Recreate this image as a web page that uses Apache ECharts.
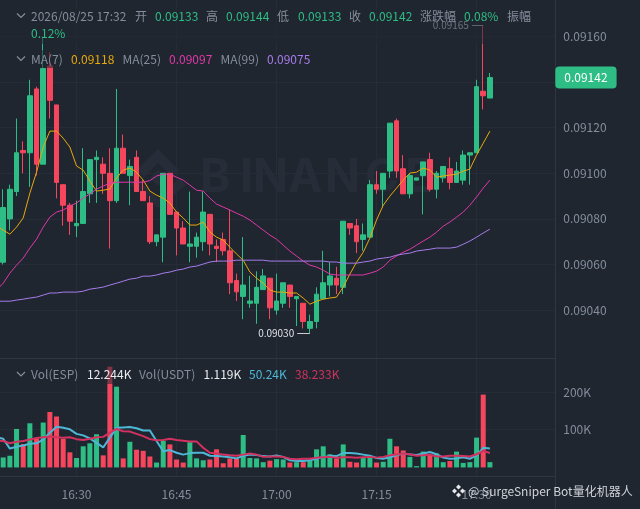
<!DOCTYPE html>
<html><head><meta charset="utf-8">
<script src="https://cdn.jsdelivr.net/npm/echarts@6/dist/echarts.min.js"></script>
<style>html,body{margin:0;padding:0;background:#1f2630}#c{width:640px;height:509px}</style>
</head><body><div id="c"></div>
<script>
const tickIndex=[11,26,41,56,71];
const tickLabels=['16:30','16:45','17:00','17:15','17:30'];
const priceTicks=[0.0904,0.0906,0.0908,0.091,0.0912,0.0914,0.0916];
const priceLabels=[0.0904,0.0906,0.0908,0.091,0.0912,0.0916];
const volTicks=[100000,200000];

const opens=[0.09061,0.0908,0.09092,0.0911,0.09109,0.09137,0.09104,0.09147,0.0913,0.09095,0.09086,0.09077,0.09078,0.09091,0.09106,0.09104,0.091,0.09088,0.09111,0.09099,0.09107,0.09092,0.09087,0.0907,0.09072,0.091,0.09083,0.09076,0.09068,0.09068,0.0907,0.09082,0.09068,0.09071,0.09066,0.09053,0.09046,0.09043,0.09043,0.09049,0.09054,0.0904,0.09043,0.09051,0.09045,0.09043,0.09032,0.09035,0.09045,0.09051,0.09054,0.0905,0.09078,0.09077,0.09071,0.09072,0.09095,0.09093,0.09101,0.09123,0.09102,0.09091,0.09097,0.09099,0.09106,0.09093,0.09098,0.09102,0.09096,0.09097,0.09108,0.09109,0.09136,0.09133];
const closes=[0.09085,0.09093,0.09109,0.09109,0.09134,0.09104,0.09146,0.09132,0.09096,0.09086,0.09079,0.09078,0.09092,0.09106,0.09107,0.091,0.09088,0.09111,0.091,0.09103,0.09092,0.09088,0.0907,0.09073,0.091,0.09082,0.09076,0.09069,0.09069,0.09072,0.09083,0.09069,0.09067,0.09066,0.09052,0.09048,0.09051,0.09044,0.0905,0.09055,0.09041,0.09044,0.09052,0.09046,0.09046,0.09035,0.09035,0.09047,0.09052,0.09055,0.09051,0.09079,0.09076,0.0907,0.09073,0.09095,0.09093,0.091,0.09122,0.09101,0.09091,0.09099,0.09098,0.09105,0.09093,0.091,0.09103,0.09096,0.09101,0.09108,0.09109,0.09138,0.09134,0.09142];
const lows=[0.0906,0.09075,0.0909,0.091,0.09094,0.09099,0.09104,0.09124,0.09089,0.09077,0.09073,0.09072,0.09078,0.09087,0.09087,0.09091,0.09067,0.09087,0.091,0.09086,0.09092,0.09088,0.09069,0.09068,0.09061,0.09082,0.09064,0.09069,0.09061,0.09063,0.09066,0.09064,0.09061,0.09064,0.09047,0.09044,0.09036,0.09041,0.09034,0.09049,0.09036,0.09038,0.09041,0.09041,0.09033,0.09032,0.0903,0.09032,0.09045,0.09046,0.09047,0.09047,0.09073,0.09065,0.09066,0.09072,0.09091,0.09085,0.09098,0.09098,0.09091,0.09089,0.09097,0.09082,0.09092,0.09089,0.09096,0.09093,0.09096,0.09095,0.09095,0.09109,0.09128,0.09133];
const highs=[0.09093,0.09095,0.09124,0.09114,0.09141,0.09138,0.0916,0.09153,0.0913,0.09095,0.09087,0.09088,0.09111,0.09106,0.0911,0.09107,0.09111,0.09137,0.09117,0.09106,0.0911,0.09097,0.0909,0.09073,0.091,0.091,0.09083,0.09079,0.09092,0.09074,0.09092,0.09082,0.09071,0.09074,0.09084,0.09056,0.09072,0.09055,0.09057,0.09058,0.09054,0.09056,0.09052,0.09051,0.09046,0.09043,0.09038,0.0905,0.09066,0.09061,0.09059,0.09079,0.09078,0.0908,0.09078,0.09097,0.09101,0.091,0.09122,0.09124,0.09108,0.091,0.09098,0.09105,0.09109,0.09101,0.09103,0.09107,0.09105,0.0911,0.09109,0.09141,0.09165,0.09144];

/* moving averages and volume averages begin one minute before the first visible candle */
const ma7=[0.090768,0.090751,0.090733,0.090764,0.090804,0.090913,0.091005,0.091115,0.091185,0.091185,0.091154,0.091115,0.091032,0.091014,0.090966,0.090922,0.090926,0.090931,0.090979,0.091014,0.091023,0.091005,0.09097,0.090922,0.090904,0.090891,0.090869,0.09083,0.090804,0.090773,0.090773,0.090786,0.090742,0.09072,0.090707,0.090676,0.090646,0.090619,0.090567,0.09054,0.090518,0.090488,0.090479,0.090479,0.090475,0.090475,0.090453,0.090426,0.090439,0.090448,0.090453,0.090457,0.090501,0.090558,0.09061,0.090654,0.090716,0.090795,0.09086,0.0909,0.090935,0.09097,0.091001,0.091005,0.091023,0.091014,0.090983,0.090988,0.090992,0.090996,0.09101,0.091018,0.09108,0.091132,0.091185];
const ma25=[0.090488,0.090518,0.090562,0.090597,0.090628,0.090672,0.090711,0.090764,0.090808,0.09083,0.090839,0.090856,0.09087,0.090891,0.090909,0.090931,0.090944,0.090957,0.090961,0.090961,0.090961,0.090961,0.090961,0.090968,0.090988,0.090996,0.090996,0.090983,0.09097,0.090948,0.090926,0.090922,0.090891,0.090865,0.090852,0.090839,0.090825,0.090812,0.090795,0.090773,0.090751,0.090729,0.090711,0.090685,0.090659,0.090637,0.090615,0.090597,0.090589,0.090575,0.090558,0.090554,0.090554,0.090554,0.090554,0.090554,0.090562,0.090571,0.090589,0.090619,0.090637,0.090654,0.090667,0.090685,0.090703,0.09072,0.090742,0.090768,0.090786,0.090808,0.09083,0.09086,0.090896,0.090935,0.09097];
const ma99=[0.090439,0.090439,0.090439,0.090444,0.090448,0.090453,0.090457,0.090466,0.090475,0.090475,0.090479,0.090479,0.090479,0.090483,0.090492,0.090496,0.090501,0.09051,0.090518,0.090527,0.090536,0.09054,0.090549,0.090549,0.090554,0.090562,0.090567,0.090575,0.09058,0.090589,0.090593,0.090602,0.090611,0.090615,0.090615,0.090615,0.090619,0.090619,0.090619,0.090619,0.090619,0.090615,0.090615,0.090615,0.090615,0.090615,0.090615,0.090615,0.090615,0.090615,0.090611,0.090611,0.090606,0.090606,0.090606,0.090611,0.090615,0.090624,0.090628,0.090632,0.090641,0.090646,0.09065,0.090659,0.090663,0.090667,0.090672,0.090672,0.090672,0.090676,0.090689,0.090703,0.09072,0.090738,0.090755];

const volumes=[26.5,31,102,62,117,76,119,147,135,76,40,25,56,64,88,32,267,214,24,68,47,44,29,13,70,61,21,13,67,24,19,21,48,11,24,24,86,25,24,14,18,22,21,13,14,14,17,48,56,35,24,61,15,13,25,29,13,15,76,56,45,28,3.5,42,34,37,14,17,42,12,14,79,193,14];
const volAvgBlue=[80,76,50,55,58,63,64,74,92,108,105,101,89,85,77,65,53,79,105,106,107,104,98,98,70,43,46,39,34,38,39,39,31,30,29,27,24,31,34,33,30,29,32,28,19,17,17,19,23,28,30,30,38,38,37,34,31,25,23,27,32,37,34,33,37,41,35,26,23,24,27,23,32,52,50.24];
const volAvgRed=[72,70,64,68,70,74,78,80,82,80,79,80,75,73,76,80,81,92,102,96,95,89,83,75,72,73,76,73,71,69,69,52,39,37,34,32,31,34,37,34,28,29,29,28,23,22,23,23,26,27,28,26,27,27,26,27,28,26,28,32,34,37,35,31,32,34,29,29,31,31,30,29,35,44,38.233];

const lastClose=closes[closes.length-1];
const GREEN='#2EBD85',RED='#F6465D',GREY='#848E9C',BG='#1f2630',GRID='#272d38',SEP='#2f3641';
const FONT='"Noto Sans CJK SC","Noto Sans",sans-serif';

const candleData=opens.map((o,i)=>[i,o,closes[i],lows[i],highs[i]]);
const volData=volumes.map((v,i)=>({value:[i,v*1000],itemStyle:{color:closes[i]>=opens[i]?GREEN:RED}}));
const lineData=a=>a.map((v,i)=>[i-1,v]);
const volLine=a=>a.map((v,i)=>[i-1,v*1000]);
const xMin=-0.48,xMax=82.81;

function txt(x,y,s,fill,extra){return Object.assign({type:'text',x:x,y:y,z:110,silent:true,style:{text:s,fill:fill,font:'12px '+FONT,textVerticalAlign:'middle'}},extra||{});}
function chev(y){return {type:'polyline',z:110,silent:true,shape:{points:[[17,y-2.5],[21,y+1.5],[25,y-2.5]]},style:{stroke:GREY,fill:null,lineWidth:1.2}};}
function wm(x,s){return {type:'text',x:x,y:178,z:1,silent:true,style:{text:s,fill:'#272d38',font:'bold 46px Inter,'+FONT,textVerticalAlign:'middle'}};}
function poly(p,fill,z){return {type:'polygon',z:z,silent:true,shape:{points:p},style:{fill:fill,stroke:null}};}

const graphics=[
  /* faint brand watermark behind the candles */
  poly([[158,149],[179,170],[172,177],[158,163],[144,177],[137,170]],'#272d38',1),
  poly([[158,170],[166,178],[158,186],[150,178]],'#272d38',1),
  poly([[137,178],[144,185],[158,199],[172,185],[179,178],[186,185],[158,208],[130,185]],'#272d38',1),
  wm(200,'B'),wm(240,'I'),wm(253,'N'),wm(288,'A'),wm(325,'N'),wm(365,'C'),wm(405,'E'),
  /* translucent plates under the legends */
  {type:'rect',z:100,silent:true,shape:{x:0,y:6,width:554,height:38},style:{fill:BG,opacity:0.55}},
  {type:'rect',z:100,silent:true,shape:{x:0,y:50,width:320,height:18},style:{fill:BG,opacity:0.55}},
  {type:'rect',z:100,silent:true,shape:{x:0,y:366,width:345,height:18},style:{fill:BG,opacity:0.55}},
  chev(16),chev(59),chev(374.5),
  txt(31,16.5,'2026/08/25 17:32',GREY),txt(135,16.5,'开',GREY),txt(155,16.5,'0.09133',GREEN),
  txt(206,16.5,'高',GREY),txt(226,16.5,'0.09144',GREEN),txt(277,16.5,'低',GREY),txt(298,16.5,'0.09133',GREEN),
  txt(349,16.5,'收',GREY),txt(369,16.5,'0.09142',GREEN),txt(420,16.5,'涨跌幅',GREY),txt(464,16.5,'0.08%',GREEN),
  txt(507,16.5,'振幅',GREY),txt(31,33,'0.12%',GREEN),
  txt(31,59,'MA(7)',GREY),txt(71,59,'0.09118','#E8A90C'),txt(122.5,59,'MA(25)',GREY),txt(169,59,'0.09097','#E038A8'),
  txt(220.5,59,'MA(99)',GREY),txt(267,59,'0.09075','#A77CEB'),
  txt(31,374.5,'Vol(ESP)',GREY),txt(87,374.5,'12.244K','#EAECEF'),txt(139,374.5,'Vol(USDT)',GREY),txt(203.5,374.5,'1.119K','#EAECEF'),
  txt(249,374.5,'50.24K','#4FB7D6'),txt(295,374.5,'38.233K','#D2325F'),
  /* bottom-right credit */
  poly([[458.5,484.5],[461,487],[458.5,489.5],[456,487]],'#e6e8eb',110),
  poly([[458.5,492.5],[461,495],[458.5,497.5],[456,495]],'#e6e8eb',110),
  poly([[454.5,488.5],[457,491],[454.5,493.5],[452,491]],'#e6e8eb',110),
  poly([[462.5,488.5],[465,491],[462.5,493.5],[460,491]],'#e6e8eb',110),
  txt(468,491.5,'@ SurgeSniper Bot量化机器人','#d0d3d8'),
  /* right separator continues below the volume panel */
  {type:'line',z:5,silent:true,shape:{x1:555.5,y1:476,x2:555.5,y2:509},style:{stroke:SEP,lineWidth:1}},
];

const option={
  backgroundColor:BG,animation:false,
  textStyle:{fontFamily:FONT},
  graphic:graphics,
  grid:[{left:0,top:0,width:555.3,height:358,containLabel:false},{left:0,top:358,width:555.3,height:118.5,containLabel:false}],
  xAxis:[
    {type:'value',gridIndex:0,min:xMin,max:xMax,axisLine:{show:true,onZero:false,lineStyle:{color:SEP}},
      axisLabel:{show:false},axisTick:{show:false,customValues:tickIndex},splitLine:{show:true,lineStyle:{color:GRID}}},
    {type:'value',gridIndex:1,min:xMin,max:xMax,axisLine:{show:true,onZero:false,lineStyle:{color:SEP}},
      axisTick:{show:false,customValues:tickIndex},splitLine:{show:true,lineStyle:{color:GRID}},
      axisLabel:{customValues:tickIndex,color:GREY,fontSize:12,fontFamily:FONT,margin:12,formatter:v=>tickLabels[tickIndex.indexOf(v)]||''}}
  ],
  yAxis:[
    {type:'value',gridIndex:0,position:'right',scale:true,min:0.09019,max:0.09176,
      axisLine:{show:true,onZero:false,lineStyle:{color:SEP}},axisTick:{show:false,customValues:priceTicks},splitLine:{show:true,lineStyle:{color:GRID}},
      axisLabel:{customValues:priceLabels,color:GREY,fontSize:12,fontFamily:FONT,margin:8,formatter:v=>v.toFixed(5)}},
    {type:'value',gridIndex:1,position:'right',min:-24000,max:290000,
      axisLine:{show:true,onZero:false,lineStyle:{color:SEP}},axisTick:{show:false,customValues:volTicks},splitLine:{show:true,lineStyle:{color:GRID}},
      axisLabel:{customValues:volTicks,color:GREY,fontSize:12,fontFamily:FONT,margin:8,formatter:v=>(v/1000)+'K'}}
  ],
  series:[
    {type:'candlestick',xAxisIndex:0,yAxisIndex:0,barWidth:5,data:candleData,encode:{x:0,y:[1,2,3,4]},
      itemStyle:{color:GREEN,color0:RED,borderColor:GREEN,borderColor0:RED,borderWidth:1},
      markLine:{silent:true,symbol:'none',animation:false,data:[
        [{coord:[70.3,0.09165],lineStyle:{color:'#a9aeb6',width:1,type:'solid'},label:{show:true,position:'start',distance:3,formatter:'0.09165',color:'#c9ccd2',fontSize:10,fontFamily:FONT}},{coord:[72,0.09165]}],
        [{coord:[44.1,0.0903],lineStyle:{color:'#c9ccd2',width:1,type:'solid'},label:{show:true,position:'start',distance:3,formatter:'0.09030',color:'#dfe1e5',fontSize:10,fontFamily:FONT}},{coord:[46,0.0903]}],
        [{coord:[xMax-0.5,lastClose],lineStyle:{color:'rgba(0,0,0,0)',width:1},label:{show:true,position:'end',distance:0,formatter:'0.09142',color:'#fff',fontSize:12,fontFamily:FONT,backgroundColor:GREEN,borderRadius:4,padding:[5,9]}},{coord:[xMax,lastClose]}]
      ]}},
    {type:'line',name:'MA7',xAxisIndex:0,yAxisIndex:0,data:lineData(ma7),showSymbol:false,lineStyle:{color:'#E8A90C',width:1},z:3},
    {type:'line',name:'MA25',xAxisIndex:0,yAxisIndex:0,data:lineData(ma25),showSymbol:false,lineStyle:{color:'#E038A8',width:1},z:3},
    {type:'line',name:'MA99',xAxisIndex:0,yAxisIndex:0,data:lineData(ma99),showSymbol:false,lineStyle:{color:'#A77CEB',width:1},z:3},
    {type:'bar',xAxisIndex:1,yAxisIndex:1,barWidth:5,data:volData},
    {type:'line',xAxisIndex:1,yAxisIndex:1,data:volLine(volAvgBlue),showSymbol:false,lineStyle:{color:'#4FB7D6',width:2},z:3},
    {type:'line',xAxisIndex:1,yAxisIndex:1,data:volLine(volAvgRed),showSymbol:false,lineStyle:{color:'#D2325F',width:2},z:3}
  ]
};
echarts.init(document.getElementById('c'),null,{renderer:'canvas'}).setOption(option);
</script>
</body></html>
